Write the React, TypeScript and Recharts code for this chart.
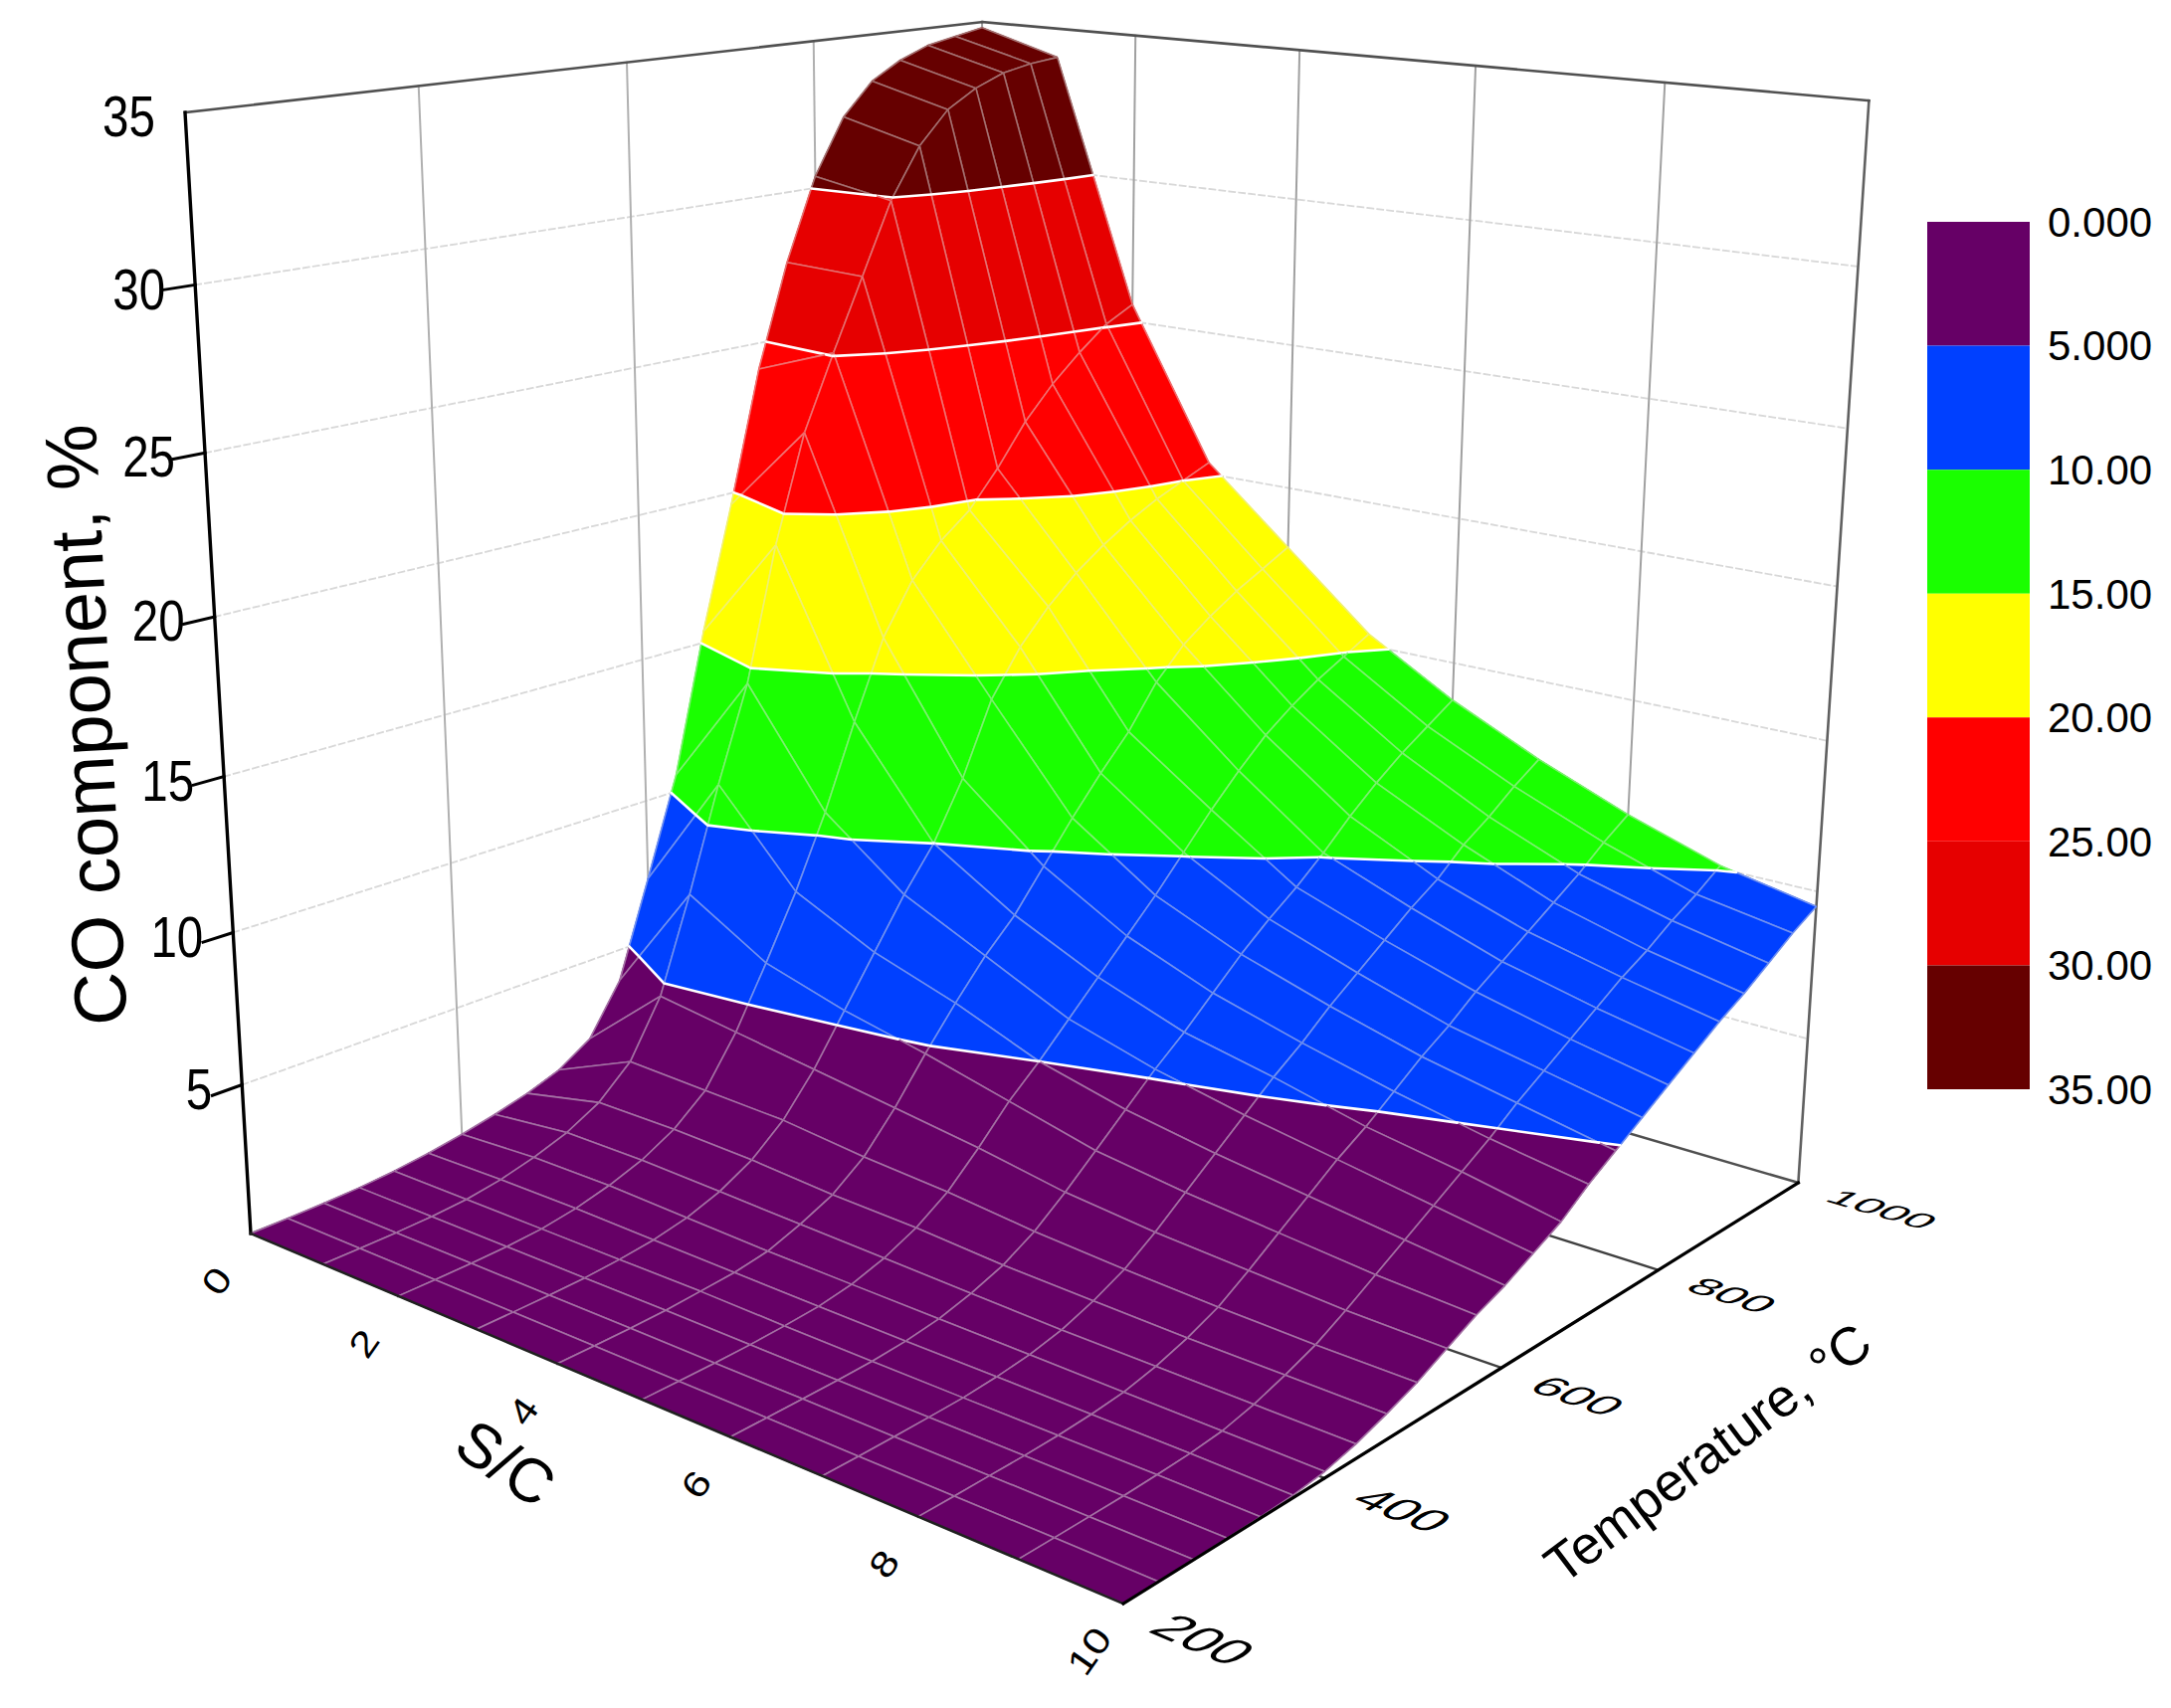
import React from "react";
import { Bar, BarChart, ComposedChart, Scatter, XAxis, YAxis } from "recharts";

// grid of the surface
const scRatio = [0, 1, 2, 3, 4, 5, 6, 7, 8, 9, 10];
const temperature = [
  200, 233.3, 266.7, 300, 333.3, 366.7, 400, 433.3, 466.7, 500, 533.3, 566.7,
  600, 633.3, 666.7, 700, 733.3, 766.7, 800, 833.3, 866.7, 900, 933.3, 966.7,
  1000,
];

// CO component (%) along the temperature grid, one list per S/C value
const coSc0 = [0, 0.02, 0.05, 0.1, 0.2, 0.35, 0.55, 0.8, 1.1, 1.5, 2.2, 3.9, 7.2, 10.6, 15.4, 19.6, 24.1, 27.6, 30.4, 32.3, 33.4, 34.0, 34.4, 34.6, 34.8];
const coSc1 = [0, 0.02, 0.05, 0.1, 0.2, 0.4, 0.7, 1.1, 1.7, 2.7, 4.6, 7.8, 11.3, 14.5, 19.0, 22.6, 25.1, 27.5, 29.9, 31.6, 32.7, 33.3, 33.7, 33.9, 34.0];
const coSc2 = [0, 0.02, 0.05, 0.1, 0.2, 0.4, 0.7, 1.1, 1.7, 2.6, 4.2, 6.2, 8.3, 10.7, 13.5, 16.1, 17.8, 18.9, 19.7, 20.9, 22.3, 23.4, 24.3, 25.1, 25.6];
const coSc3 = [0, 0.02, 0.05, 0.1, 0.2, 0.35, 0.6, 1.0, 1.6, 2.5, 3.8, 5.4, 7.0, 8.6, 10.0, 11.9, 14.3, 15.8, 16.9, 17.8, 18.5, 19.1, 19.6, 20.0, 20.4];
const coSc4 = [0, 0.02, 0.05, 0.1, 0.2, 0.3, 0.5, 0.9, 1.4, 2.2, 3.4, 4.8, 6.1, 7.3, 8.3, 9.6, 10.9, 12.1, 13.2, 14.6, 15.6, 16.3, 16.9, 17.4, 17.9];
const coSc5 = [0, 0.02, 0.04, 0.08, 0.15, 0.25, 0.45, 0.8, 1.3, 2.0, 3.0, 4.1, 5.0, 6.0, 7.0, 8.0, 9.0, 10.1, 11.2, 12.2, 13.1, 13.8, 14.4, 14.9, 15.4];
const coSc6 = [0, 0.02, 0.04, 0.07, 0.12, 0.22, 0.4, 0.7, 1.1, 1.7, 2.5, 3.4, 4.3, 5.2, 6.0, 6.9, 7.8, 8.6, 9.3, 10.1, 11.0, 11.8, 12.5, 13.1, 13.7];
const coSc7 = [0, 0.01, 0.03, 0.06, 0.1, 0.2, 0.35, 0.6, 1.0, 1.5, 2.2, 3.0, 3.8, 4.6, 5.4, 6.1, 6.9, 7.6, 8.3, 9.0, 9.6, 10.4, 11.0, 11.7, 12.3];
const coSc8 = [0, 0.01, 0.03, 0.05, 0.09, 0.17, 0.3, 0.55, 0.9, 1.35, 2.0, 2.7, 3.4, 4.1, 4.7, 5.4, 6.1, 6.7, 7.4, 8.0, 8.6, 9.2, 9.8, 10.5, 11.1];
const coSc9 = [0, 0.01, 0.02, 0.04, 0.08, 0.14, 0.25, 0.5, 0.85, 1.25, 1.8, 2.4, 3.0, 3.6, 4.2, 4.8, 5.5, 6.1, 6.7, 7.3, 7.9, 8.4, 9.0, 9.5, 10.1];
const coSc10 = [0, 0, 0.01, 0.02, 0.04, 0.08, 0.2, 0.45, 0.8, 1.2, 1.7, 2.2, 2.6, 3.1, 3.6, 4.3, 4.9, 5.5, 6.1, 6.7, 7.3, 7.8, 8.4, 9.0, 9.5];
const coBySc = [coSc0, coSc1, coSc2, coSc3, coSc4, coSc5, coSc6, coSc7, coSc8, coSc9, coSc10];

const zTicks = [5, 10, 15, 20, 25, 30, 35];
const scTicks = [0, 2, 4, 6, 8, 10];
const tempTicks = [200, 400, 600, 800, 1000];
const levelBreaks = [0, 5, 10, 15, 20, 25, 30, 35];
const levelColors = ["#660066", "#0040ff", "#1aff00", "#ffff00", "#ff0000", "#e60000", "#660000"];
const levelLabels = ["0.000", "5.000", "10.00", "15.00", "20.00", "25.00", "30.00", "35.00"];

const W = 2182;
const H = 1717;
const FONT = '"Liberation Sans", Arial, Helvetica, sans-serif';

// perspective view: screen spot of the (S/C 0, 200 C, 0 %) corner,
// vanishing points of the three box directions and their weights
const view = {
  ox: 252, oy: 1240,
  vs: [-3571, -382], vt: [4278, -352], vz: [986, 13772],
  ks: -0.1866, kt: 0.22334, kz: -0.0825,
};
const sRange = [0, 10];
const tRange = [200, 1000];
const zRange = [0, 35];

function project(s: number, t: number, z: number) {
  const u = (s - sRange[0]) / (sRange[1] - sRange[0]);
  const v = (t - tRange[0]) / (tRange[1] - tRange[0]);
  const w = (z - zRange[0]) / (zRange[1] - zRange[0]);
  const hx = view.ks * view.vs[0] * u + view.kt * view.vt[0] * v + view.kz * view.vz[0] * w + view.ox;
  const hy = view.ks * view.vs[1] * u + view.kt * view.vt[1] * v + view.kz * view.vz[1] * w + view.oy;
  const hw = view.ks * u + view.kt * v + view.kz * w + 1;
  return { x: hx / hw, y: hy / hw, depth: hw };
}

type P3 = { s: number; t: number; z: number };

function bandOf(z: number) {
  for (let k = 0; k < levelColors.length - 1; k++) if (z < levelBreaks[k + 1]) return k;
  return levelColors.length - 1;
}

function tint(hex: string, f: number) {
  const n = parseInt(hex.slice(1), 16);
  const m = (c: number) => Math.round(c + (225 - c) * f);
  return `rgb(${m((n >> 16) & 255)},${m((n >> 8) & 255)},${m(n & 255)})`;
}

function lerp(a: P3, b: P3, f: number): P3 {
  return { s: a.s + (b.s - a.s) * f, t: a.t + (b.t - a.t) * f, z: a.z + (b.z - a.z) * f };
}

function clip(poly: P3[], level: number, keepAbove: boolean) {
  const out: P3[] = [];
  for (let i = 0; i < poly.length; i++) {
    const a = poly[i];
    const b = poly[(i + 1) % poly.length];
    const ina = keepAbove ? a.z >= level : a.z <= level;
    const inb = keepAbove ? b.z >= level : b.z <= level;
    if (ina) out.push(a);
    if (ina !== inb) out.push(lerp(a, b, (level - a.z) / (b.z - a.z)));
  }
  return out;
}

const contourLevels = levelBreaks.slice(1, -1);

function buildCells() {
  const cells: any[] = [];
  for (let i = 0; i < scRatio.length - 1; i++) {
    for (let j = 0; j < temperature.length - 1; j++) {
      const c: P3[] = [
        { s: scRatio[i], t: temperature[j], z: coBySc[i][j] },
        { s: scRatio[i + 1], t: temperature[j], z: coBySc[i + 1][j] },
        { s: scRatio[i + 1], t: temperature[j + 1], z: coBySc[i + 1][j + 1] },
        { s: scRatio[i], t: temperature[j + 1], z: coBySc[i][j + 1] },
      ];
      const pr = c.map((p) => project(p.s, p.t, p.z));
      const polys: any[] = [];
      levelColors.forEach((fill, k) => {
        let p = c;
        if (k > 0) p = clip(p, levelBreaks[k], true);
        if (k < levelColors.length - 1) p = clip(p, levelBreaks[k + 1], false);
        if (p.length >= 3) {
          const points = p
            .map((q) => project(q.s, q.t, q.z))
            .map((q) => `${q.x.toFixed(1)},${q.y.toFixed(1)}`)
            .join(" ");
          polys.push({ points, fill });
        }
      });
      const mesh: any[] = [];
      for (let e = 0; e < 4; e++) {
        const a = c[e];
        const b = c[(e + 1) % 4];
        const fs = [0, 1];
        contourLevels.forEach((L) => {
          if ((a.z - L) * (b.z - L) < 0) fs.push((L - a.z) / (b.z - a.z));
        });
        fs.sort((p, q) => p - q);
        for (let k = 0; k < fs.length - 1; k++) {
          const p0 = lerp(a, b, fs[k]);
          const p1 = lerp(a, b, fs[k + 1]);
          const q0 = project(p0.s, p0.t, p0.z);
          const q1 = project(p1.s, p1.t, p1.z);
          mesh.push({
            x1: q0.x, y1: q0.y, x2: q1.x, y2: q1.y,
            color: tint(levelColors[bandOf((p0.z + p1.z) / 2)], 0.5),
          });
        }
      }
      const contours: any[] = [];
      contourLevels.forEach((L) => {
        const pts: any[] = [];
        for (let e = 0; e < 4; e++) {
          const a = c[e];
          const b = c[(e + 1) % 4];
          const za = a.z === L ? L + 1e-6 : a.z;
          const zb = b.z === L ? L + 1e-6 : b.z;
          if ((za - L) * (zb - L) < 0) {
            const p = lerp(a, b, (L - za) / (zb - za));
            pts.push(project(p.s, p.t, p.z));
          }
        }
        for (let k = 0; k + 1 < pts.length; k += 2) {
          contours.push({ x1: pts[k].x, y1: pts[k].y, x2: pts[k + 1].x, y2: pts[k + 1].y });
        }
      });
      const depth = pr.reduce((acc, p) => acc + p.depth, 0) / 4;
      cells.push({ x: pr[0].x, y: pr[0].y, depth, polys, mesh, contours });
    }
  }
  return cells.sort((a, b) => b.depth - a.depth);
}

function seg(a: P3, b: P3, stroke: string, width: number, dash?: string) {
  const p = project(a.s, a.t, a.z);
  const q = project(b.s, b.t, b.z);
  return { x: p.x, y: p.y, x2: q.x, y2: q.y, stroke, width, dash };
}

function buildBackLines() {
  const out: any[] = [];
  const [s0, s1] = sRange;
  const [t0, t1] = tRange;
  const [z0, z1] = zRange;
  // floor grid and back floor edges
  [400, 600, 800].forEach((t) => out.push(seg({ s: s0, t, z: z0 }, { s: s1, t, z: z0 }, "#404040", 2.4)));
  [2, 4, 6, 8].forEach((s) => out.push(seg({ s, t: t0, z: z0 }, { s, t: t1, z: z0 }, "#404040", 2.4)));
  out.push(seg({ s: s0, t: t0, z: z0 }, { s: s0, t: t1, z: z0 }, "#707070", 2.4));
  out.push(seg({ s: s0, t: t1, z: z0 }, { s: s1, t: t1, z: z0 }, "#505050", 2.6));
  // wall grid
  [5, 10, 15, 20, 25, 30].forEach((z) => {
    out.push(seg({ s: s0, t: t0, z }, { s: s0, t: t1, z }, "#d8d8d8", 1.8, "6 4"));
    out.push(seg({ s: s0, t: t1, z }, { s: s1, t: t1, z }, "#d8d8d8", 1.8, "6 4"));
  });
  [400, 600, 800].forEach((t) => out.push(seg({ s: s0, t, z: z0 }, { s: s0, t, z: z1 }, "#b0b0b0", 2)));
  [2, 4, 6, 8].forEach((s) => out.push(seg({ s, t: t1, z: z0 }, { s, t: t1, z: z1 }, "#a0a0a0", 2)));
  // box edges
  out.push(seg({ s: s0, t: t1, z: z0 }, { s: s0, t: t1, z: z1 }, "#a0a0a0", 2));
  out.push(seg({ s: s1, t: t1, z: z0 }, { s: s1, t: t1, z: z1 }, "#606060", 2.6));
  out.push(seg({ s: s0, t: t0, z: z1 }, { s: s0, t: t1, z: z1 }, "#505050", 2.6));
  out.push(seg({ s: s0, t: t1, z: z1 }, { s: s1, t: t1, z: z1 }, "#505050", 2.6));
  out.push(seg({ s: s0, t: t0, z: z0 }, { s: s0, t: t0, z: z1 }, "#000000", 3.4));
  zTicks.slice(0, -1).forEach((z) => out.push(seg({ s: s0, t: t0, z }, { s: s0, t: t0 - 26, z }, "#000000", 3)));
  return out;
}

function buildFrontLines() {
  const [s0, s1] = sRange;
  const [t0, t1] = tRange;
  return [
    seg({ s: s0, t: t0, z: 0 }, { s: s1, t: t0, z: 0 }, "#202020", 2.6),
    seg({ s: s1, t: t0, z: 0 }, { s: s1, t: t1, z: 0 }, "#000000", 3.2),
  ];
}

function rot(deg: number, sx = 1, sy = 1) {
  const r = (deg * Math.PI) / 180;
  return [Math.cos(r) * sx, Math.sin(r) * sx, -Math.sin(r) * sy, Math.cos(r) * sy];
}

// text lying on the floor: baseline along S, glyph height along T
function floorMatrix(s: number, t: number) {
  const p = project(s, t, 0);
  const ps = project(s + 0.01, t, 0);
  const pt = project(s, t + 0.8, 0);
  const js = [(ps.x - p.x) / 0.01, (ps.y - p.y) / 0.01];
  const jt = [(pt.x - p.x) / 0.8, (pt.y - p.y) / 0.8];
  const es = 0.011;
  const et = 0.95;
  return [js[0] * es, js[1] * es, -jt[0] * et, -jt[1] * et];
}

function buildLabels() {
  const out: any[] = [];
  zTicks.forEach((z) => {
    const p = project(sRange[0], tRange[0], z);
    out.push({ x: p.x, y: p.y, dx: -30, dy: 4, text: String(z), m: rot(0, 0.82, 1), size: 58, anchor: "end" });
  });
  scTicks.forEach((s) => {
    const p = project(s, tRange[0], 0);
    out.push({ x: p.x, y: p.y, dx: -34, dy: 48, text: String(s), m: rot(-55, 1, 0.82), size: 44, anchor: "middle" });
  });
  tempTicks.forEach((t) => {
    const s = sRange[1] + 0.35;
    const p = project(s, t, 0);
    out.push({ x: p.x, y: p.y, dx: 0, dy: 2, text: String(t), m: floorMatrix(s, t), size: 42, anchor: "start" });
  });
  const pz = project(0, 200, 17.5);
  out.push({ x: pz.x, y: pz.y, dx: -134, dy: 28, text: "CO component, %", m: rot(-93), size: 74, anchor: "middle" });
  const ps = project(4, 200, 0);
  out.push({ x: ps.x, y: ps.y, dx: -52, dy: 100, text: "S/C", m: rot(34), size: 62, anchor: "middle" });
  const pt = project(10, 700, 0);
  out.push({ x: pt.x, y: pt.y, dx: 126, dy: 136, text: "Temperature, \u00b0C", m: rot(-37), size: 54, anchor: "middle" });
  return out;
}

const cells = buildCells();
const backLines = buildBackLines();
const frontLines = buildFrontLines();
const labels = buildLabels();

const legendRow: any = { name: "CO" };
levelColors.forEach((_, k) => {
  legendRow[`b${k}`] = levelBreaks[k + 1] - levelBreaks[k];
});

function CellShape(props: any) {
  const { cx, cy, payload } = props;
  if (cx == null || cy == null) return null;
  const dx = cx - payload.x;
  const dy = cy - payload.y;
  return (
    <g transform={`translate(${dx} ${dy})`}>
      {payload.polys.map((p: any, k: number) => (
        <polygon key={`p${k}`} points={p.points} fill={p.fill} stroke={p.fill} strokeWidth={1} strokeLinejoin="round" />
      ))}
      {payload.mesh.map((m: any, k: number) => (
        <line key={`m${k}`} x1={m.x1} y1={m.y1} x2={m.x2} y2={m.y2} stroke={m.color} strokeWidth={1.6} />
      ))}
      {payload.contours.map((l: any, k: number) => (
        <line key={`c${k}`} x1={l.x1} y1={l.y1} x2={l.x2} y2={l.y2} stroke="#ffffff" strokeWidth={2.6} strokeLinecap="round" />
      ))}
    </g>
  );
}

function SegmentShape(props: any) {
  const { cx, cy, payload } = props;
  if (cx == null || cy == null) return null;
  return (
    <line
      x1={cx}
      y1={cy}
      x2={cx + payload.x2 - payload.x}
      y2={cy + payload.y2 - payload.y}
      stroke={payload.stroke}
      strokeWidth={payload.width}
      strokeDasharray={payload.dash}
      strokeLinecap="square"
    />
  );
}

function LabelShape(props: any) {
  const { cx, cy, payload } = props;
  if (cx == null || cy == null) return null;
  const [a, b, c, d] = payload.m;
  return (
    <text
      transform={`matrix(${a} ${b} ${c} ${d} ${cx + payload.dx} ${cy + payload.dy})`}
      textAnchor={payload.anchor}
      dominantBaseline="central"
      fontSize={payload.size}
      fontFamily={FONT}
      fill="#000000"
    >
      {payload.text}
    </text>
  );
}

export default function App() {
  return (
    <div style={{ position: "absolute", left: 0, top: 0, width: W, height: H, background: "#ffffff" }}>
      <ComposedChart width={W} height={H} margin={{ top: 0, right: 0, bottom: 0, left: 0 }}>
        <XAxis type="number" dataKey="x" domain={[0, W]} allowDataOverflow hide />
        <YAxis type="number" dataKey="y" domain={[0, H]} allowDataOverflow reversed hide />
        <Scatter data={backLines} shape={SegmentShape} isAnimationActive={false} />
        <Scatter data={cells} shape={CellShape} isAnimationActive={false} />
        <Scatter data={frontLines} shape={SegmentShape} isAnimationActive={false} />
        <Scatter data={labels} shape={LabelShape} isAnimationActive={false} />
      </ComposedChart>
      <div style={{ position: "absolute", left: 1937, top: 193 }}>
        <BarChart width={253} height={932} data={[legendRow]} margin={{ top: 30, right: 0, bottom: 30, left: 0 }} barCategoryGap={0}>
          <XAxis dataKey="name" hide />
          <YAxis
            orientation="right"
            type="number"
            domain={[0, 35]}
            reversed
            ticks={levelBreaks}
            interval={0}
            tickFormatter={(v: number) => levelLabels[levelBreaks.indexOf(v)]}
            axisLine={false}
            tickLine={false}
            tickMargin={12}
            width={150}
            tick={{ fontSize: 42, fill: "#000000", fontFamily: FONT }}
          />
          {levelColors.map((c, k) => (
            <Bar key={c + k} dataKey={`b${k}`} stackId="bar" fill={c} isAnimationActive={false} />
          ))}
        </BarChart>
      </div>
    </div>
  );
}
